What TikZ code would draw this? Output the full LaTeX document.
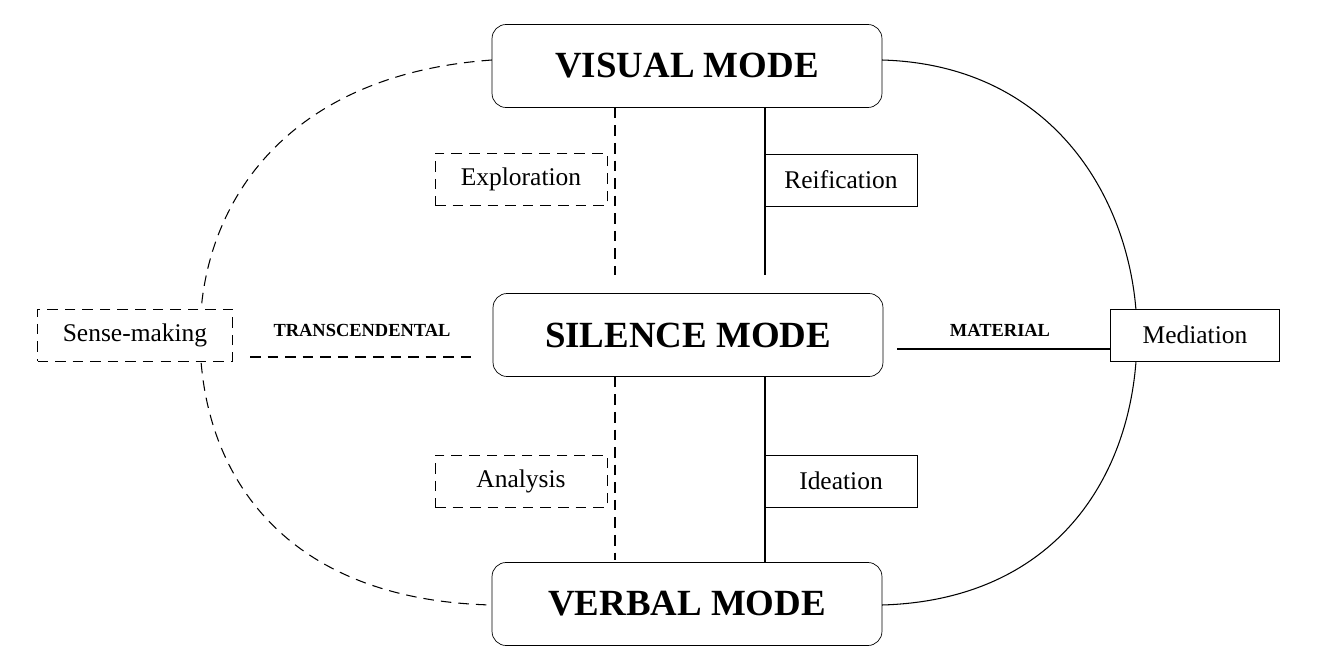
\documentclass[tikz,border=0pt]{standalone}
\usepackage{fontspec}
\setmainfont{Liberation Serif}
\usetikzlibrary{positioning}
\tikzset{
  mode/.style = {draw, rounded corners=8pt, minimum width=7.8cm,
      minimum height=1.66cm, font=\fontsize{21}{24}\selectfont\bfseries, fill=white},
  proc/.style = {draw, minimum width=3.44cm, minimum height=1.04cm,
      font=\fontsize{14.5}{17}\selectfont, fill=white},
  dproc/.style = {proc, dashed, dash pattern=on 6pt off 4pt},
  tag/.style = {font=\fontsize{10.5}{12}\selectfont\bfseries},
  link/.style = {line width=.6pt},
  dlink/.style = {link, dash pattern=on 6pt off 4pt},
}
\begin{document}
\begin{tikzpicture}[x=0.02cm, y=-0.02cm]
  \useasboundingbox (0,0) rectangle (1320,656);

  % outer arcs
  \coordinate (lt) at (492,60);
  \coordinate (lb) at (492,605);
  \coordinate (rt) at (882,60);
  \coordinate (rb) at (882,605);
  \draw[dlink] (lt) .. controls (280,75) and (200,210) .. (200,335)
    .. controls (200,470) and (280,600) .. (lb);
  \draw[link] (rt) .. controls (1060,65) and (1137,210) .. (1137,335)
    .. controls (1137,470) and (1060,600) .. (rb);

  % modes
  \node[mode] (visual) at (687,66) {VISUAL MODE};
  \node[mode] (silence) at (688,335) {SILENCE MODE};
  \node[mode] (verbal) at (687,604) {VERBAL MODE};

  % vertical links
  \coordinate (d1) at (615,275);
  \coordinate (d2) at (615,560);
  \coordinate (s1) at (765,275);
  \coordinate (s2) at (765,563);
  \draw[dlink] (visual.south -| d1) -- (d1);
  \draw[dlink] (silence.south -| d2) -- (d2);
  \draw[link] (visual.south -| s1) -- (s1);
  \draw[link] (silence.south -| s2) -- (s2);

  % side links
  \coordinate (tl) at (250,357);
  \coordinate (tr) at (478,357);
  \coordinate (ml) at (897,349);
  \draw[dlink] (tl) -- (tr);

  % processes
  \node[dproc] (explore) at (521,179) {Exploration};
  \node[proc, minimum width=3.04cm] (reify) at (841,180) {Reification};
  \node[dproc] (analysis) at (521,481) {Analysis};
  \node[proc, minimum width=3.04cm] (ideation) at (841,481) {Ideation};
  \node[dproc, minimum width=3.9cm] (sense) at (135,335) {Sense-making};
  \node[proc, minimum width=3.38cm] (mediate) at (1195,335) {Mediation};
  \draw[link] (ml) -- (ml -| mediate.west);

  \node[tag] (trans) at (362,330) {TRANSCENDENTAL};
  \node[tag] (mat) at (1000,330) {MATERIAL};
\end{tikzpicture}
\end{document}
